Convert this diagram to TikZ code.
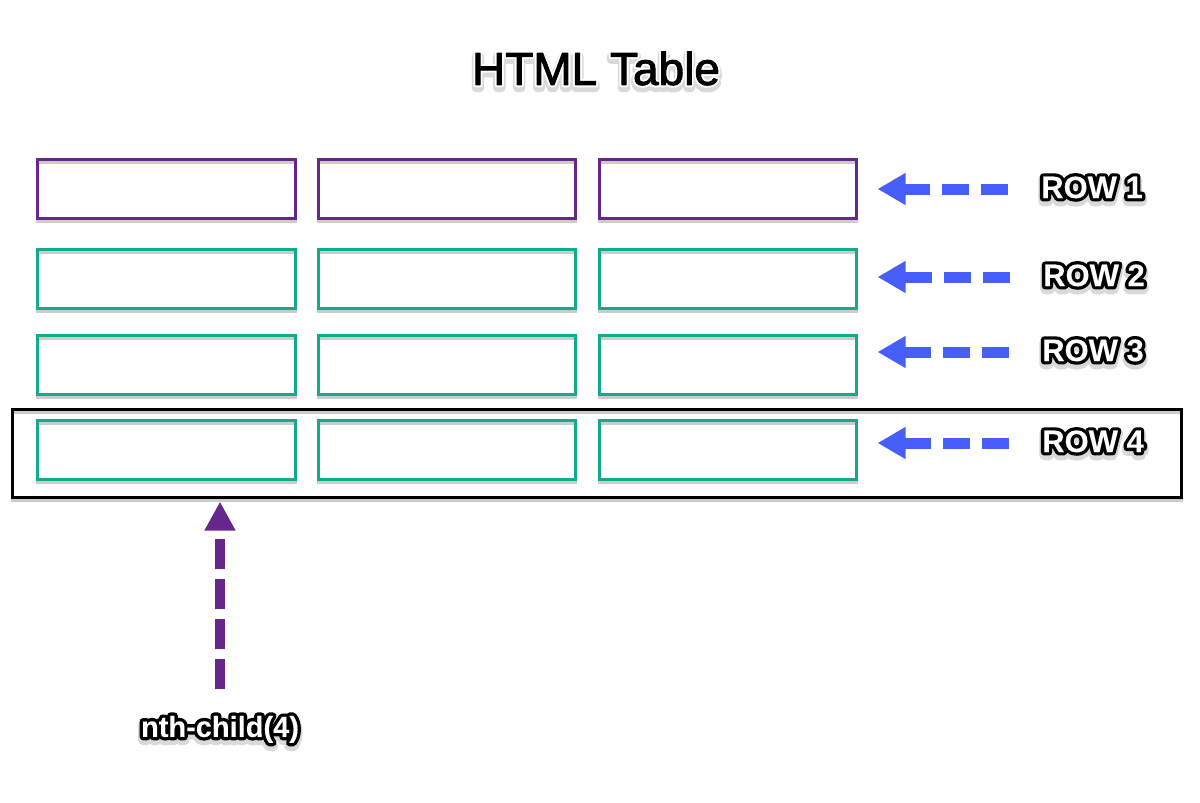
\documentclass[tikz,border=0pt]{standalone}
\usepackage{fontspec}
\setmainfont{Liberation Sans}
\usetikzlibrary{arrows.meta}
\definecolor{rowpurple}{RGB}{102,38,140}
\definecolor{rowteal}{RGB}{16,170,140}
\definecolor{rowblue}{RGB}{72,94,250}
\newcommand\inktext[3]{{\color{#1}\special{pdf:literal direct 2 Tr #2 w 1 j}#3\special{pdf:literal direct 0 Tr}}}
\newcommand\halo[6]{%
  \makebox[0pt][l]{\raisebox{-1.6pt}{\inktext{black!15}{#1}{#6}}}%
  \makebox[0pt][l]{\inktext{#3}{#2}{#6}}%
  \inktext{#5}{#4}{#6}}
\begin{document}
\begin{tikzpicture}[x=0.5pt,y=-0.5pt,
    cell/.style={draw, line width=1.5pt, inner sep=0pt, minimum width=128.5pt, minimum height=29.5pt,
      preaction={draw=black!20, line width=1.5pt, transform canvas={yshift=-1.5pt}}},
    headcell/.style={cell, draw=rowpurple},
    bodycell/.style={cell, draw=rowteal},
    rowframe/.style={cell, draw=black, minimum width=584.5pt, minimum height=44pt},
    rowlabel/.style={inner sep=0pt, font=\bfseries\fontsize{15.5}{18}\selectfont},
    rowarrow/.style={draw=rowblue, line width=5.5pt, dash pattern=on 13.5pt off 6pt,
      shorten <=16.5pt, shorten >=9.5pt, -{Triangle[length=14pt,width=15pt]}},
    colarrow/.style={draw=rowpurple, line width=4.75pt, dash pattern=on 15pt off 5pt,
      shorten <=13pt, shorten >=1.25pt, -{Triangle[length=14.5pt,width=14.5pt]}}]
  \useasboundingbox (0,0) rectangle (1200,803);
  \node[font=\fontsize{23}{28}\selectfont] (title) at (596,70) {\halo{4}{2.4}{white}{0.5}{black}{HTML Table}};
  \node[rowframe] (frame) at (597,453.5) {};
  \matrix (tbl) [column sep={140.5pt,between origins}, row sep={42.5pt,between origins}] at (447.5,319.25)
  {
    \node[headcell] (c11) {}; & \node[headcell] (c12) {}; & \node[headcell] (c13) {}; \\[2.75pt]
    \node[bodycell] (c21) {}; & \node[bodycell] (c22) {}; & \node[bodycell] (c23) {}; \\[0.5pt]
    \node[bodycell] (c31) {}; & \node[bodycell] (c32) {}; & \node[bodycell] (c33) {}; \\
    \node[bodycell] (c41) {}; & \node[bodycell] (c42) {}; & \node[bodycell] (c43) {}; \\
  };
  \node[rowlabel] (lab1) at (1092,189) {\halo{5}{3.4}{black}{0}{white}{ROW 1}};
  \node[rowlabel] (lab2) at (1094,277) {\halo{5}{3.4}{black}{0}{white}{ROW 2}};
  \node[rowlabel] (lab3) at (1093,352) {\halo{5}{3.4}{black}{0}{white}{ROW 3}};
  \node[rowlabel] (lab4) at (1093,443) {\halo{5}{3.4}{black}{0}{white}{ROW 4}};
  \draw[rowarrow] (lab1.west) -- (lab1.west -| c13.east);
  \draw[rowarrow] (lab2.west) -- (lab2.west -| c23.east);
  \draw[rowarrow] (lab3.west) -- (lab3.west -| c33.east);
  \draw[rowarrow] (lab4.west) -- (lab4.west -| c43.east);
  \node[rowlabel, font=\bfseries\fontsize{14.5}{17}\selectfont] (nth) at (220,731) {\halo{5}{3.4}{black}{0}{white}{nth-child(4)}};
  \draw[colarrow] (nth.north) -- (frame.south -| nth.north);
\end{tikzpicture}
\end{document}
